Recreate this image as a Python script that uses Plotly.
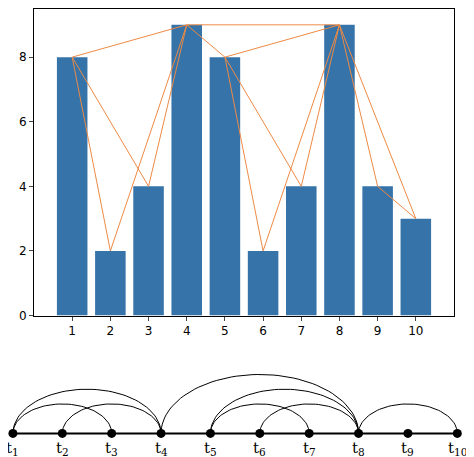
import numpy as np
import plotly.graph_objects as go

x = list(range(1, 11))
values = [8, 2, 4, 9, 8, 2, 4, 9, 4, 3]
edges = [(1,2),(1,3),(1,4),(2,4),(3,4),(4,5),(4,8),(5,6),(5,7),(5,8),(6,8),(7,8),(8,9),(8,10),(9,10)]
arcs = [(1,3),(1,4),(2,4),(4,8),(5,7),(5,8),(6,8),(8,10)]
labels = [f"t<sub>{i}</sub>" for i in x]

fig = go.Figure()
fig.add_trace(go.Bar(x=x, y=values, width=0.8, marker=dict(color="#3573a9", line_width=0),
                     xaxis="x", yaxis="y", showlegend=False))
ex, ey = [], []
for a, b in edges:
    ex += [a, b, None]; ey += [values[a-1], values[b-1], None]
fig.add_trace(go.Scatter(x=ex, y=ey, mode="lines", line=dict(color="#ee8a45", width=1),
                         xaxis="x", yaxis="y", showlegend=False))

# bottom graph
fig.add_trace(go.Scatter(x=[1, 10], y=[0, 0], mode="lines", line=dict(color="black", width=2),
                         xaxis="x2", yaxis="y2", showlegend=False))
for a, b in arcs:
    t = np.linspace(0, np.pi, 60)
    c, r = (a+b)/2, (b-a)/2
    fig.add_trace(go.Scatter(x=c - r*np.cos(t), y=15*(b-a)*np.sin(t), mode="lines",
                             line=dict(color="black", width=1), xaxis="x2", yaxis="y2", showlegend=False))
fig.add_trace(go.Scatter(x=x, y=[0]*10, mode="markers", marker=dict(color="black", size=9),
                         xaxis="x2", yaxis="y2", showlegend=False))
for i, lab in zip(x, labels):
    fig.add_annotation(x=i, y=-4, text=lab, showarrow=False, xref="x2", yref="y2", yanchor="top",
                       font=dict(family="DejaVu Serif", size=15, color="black"))

fig.update_layout(
    width=474, height=457, margin=dict(l=0, r=0, t=1, b=0),
    plot_bgcolor="white", paper_bgcolor="white",
    font=dict(family="DejaVu Sans", size=12, color="black"),
    xaxis=dict(domain=[26/474, 446/474], range=[0, 11], tickvals=x, ticks="outside", ticklen=4,
               showgrid=False, zeroline=False, showline=True, linecolor="black", mirror=True),
    yaxis=dict(domain=[145/457, 1], range=[0, 9.49], tickvals=[0, 2, 4, 6, 8], ticks="outside", ticklen=4,
               showgrid=False, zeroline=False, showline=True, linecolor="black", mirror=True),
    xaxis2=dict(domain=[0, 1], range=[0.9, 10.5], visible=False, anchor="y2"),
    yaxis2=dict(domain=[0, 97/457], range=[-25, 72], visible=False, anchor="x2"),
)
fig.write_html("out.html")
